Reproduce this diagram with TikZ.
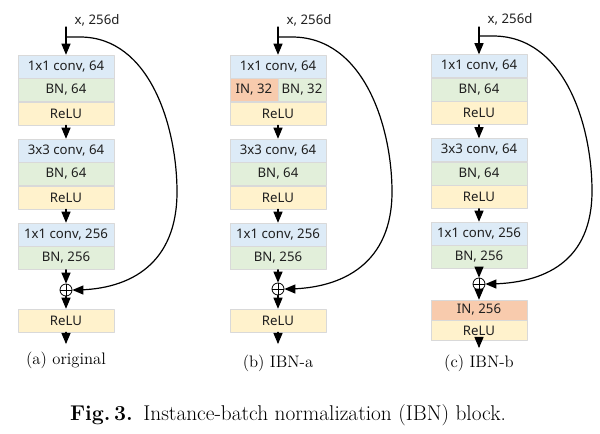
\documentclass[tikz,border=0pt]{standalone}
\usepackage{fontspec}
\newfontfamily\boxfont{Noto Sans}
\usetikzlibrary{arrows,positioning}
\definecolor{convblue}{RGB}{221,235,247}
\definecolor{bngreen}{RGB}{226,239,218}
\definecolor{reluyellow}{RGB}{255,242,204}
\definecolor{inorange}{RGB}{248,203,173}
\tikzset{
  blk/.style={draw=black!15, minimum width=72pt, minimum height=17.25pt, inner sep=0pt,
    font=\boxfont\fontsize{9.9}{11}\selectfont, text=black!88},
  conv/.style={blk, fill=convblue},
  bn/.style={blk, fill=bngreen},
  relu/.style={blk, fill=reluyellow},
  inorm/.style={blk, fill=inorange},
  half/.style={minimum width=36pt},
  thin row/.style={minimum height=15pt},
  oplus/.style={circle, draw, line width=0.6pt, minimum size=9pt, inner sep=0pt,
    path picture={\draw[line width=0.6pt] (path picture bounding box.north) -- (path picture bounding box.south)
      (path picture bounding box.west) -- (path picture bounding box.east);}},
  inlabel/.style={anchor=west, font=\boxfont\fontsize{9.9}{11}\selectfont, text=black!88},
  subcap/.style={font=\fontsize{12.5}{15}\selectfont},
  flow/.style={->, line width=0.9pt}
}
\begin{document}
\begin{tikzpicture}[line cap=round,line join=round,>=triangle 45,x=0.75pt,y=-0.75pt,node distance=0pt]
      \useasboundingbox (0,0) rectangle (600,433);
      % (a) original
      \coordinate (ina) at (66,27);
      \coordinate (spa) at (66,37);
      \node[inlabel] (xa) at (70,20) {x, 256d};
      \node[conv] (conv1a) at (66,66.5) {1x1 conv, 64};
      \node[bn, below=of conv1a] (bn1a) {BN, 64};
      \node[relu, below=of bn1a] (relu1a) {ReLU};
      \node[conv] (conv2a) at (66,150.5) {3x3 conv, 64};
      \node[bn, below=of conv2a] (bn2a) {BN, 64};
      \node[relu, below=of bn2a] (relu2a) {ReLU};
      \node[conv] (conv3a) at (66,234.5) {1x1 conv, 256};
      \node[bn, below=of conv3a] (bn3a) {BN, 256};
      \node[oplus] (adda) at (66,290) {};
      \node[relu] (relu4a) at (66,320.5) {ReLU};
      \coordinate (outa) at (66,344);
      \node[subcap] (capa) at (66,360) {(a) original};
      \draw[flow] (ina) -- (conv1a);
      \draw[flow] (relu1a) -- (conv2a);
      \draw[flow] (relu2a) -- (conv3a);
      \draw[flow] (bn3a) -- (adda);
      \draw[flow] (adda) -- (relu4a);
      \draw[flow] (relu4a) -- (outa);
      \draw[flow] (spa) -- ++(14,0) .. controls +(70,0) and +(0,-65) .. ++(97,155)
        .. controls +(0,70) and +(60,0) .. (adda.east);
      % (b) IBN-a
      \coordinate (inb) at (278,27);
      \coordinate (spb) at (278,37);
      \node[inlabel] (xb) at (282,20) {x, 256d};
      \node[conv] (conv1b) at (278,66.5) {1x1 conv, 64};
      \node[inorm, half, anchor=north west] (in1b) at (conv1b.south west) {IN, 32};
      \node[bn, half, anchor=north east] (bn1b) at (conv1b.south east) {BN, 32};
      \node[relu, anchor=north] (relu1b) at (in1b.south -| conv1b.south) {ReLU};
      \node[conv] (conv2b) at (278,150.5) {3x3 conv, 64};
      \node[bn, below=of conv2b] (bn2b) {BN, 64};
      \node[relu, below=of bn2b] (relu2b) {ReLU};
      \node[conv] (conv3b) at (278,234.5) {1x1 conv, 256};
      \node[bn, below=of conv3b] (bn3b) {BN, 256};
      \node[oplus] (addb) at (278,289) {};
      \node[relu] (relu4b) at (278,320.5) {ReLU};
      \coordinate (outb) at (278,344);
      \node[subcap] (capb) at (278,363) {(b) IBN-a};
      \draw[flow] (inb) -- (conv1b);
      \draw[flow] (relu1b) -- (conv2b);
      \draw[flow] (relu2b) -- (conv3b);
      \draw[flow] (bn3b) -- (addb);
      \draw[flow] (addb) -- (relu4b);
      \draw[flow] (relu4b) -- (outb);
      \draw[flow] (spb) -- ++(14,0) .. controls +(72,0) and +(0,-65) .. ++(100,155)
        .. controls +(0,70) and +(60,0) .. (addb.east);
      % (c) IBN-b
      \coordinate (inc) at (479,27);
      \coordinate (spc) at (479,36);
      \node[inlabel] (xc) at (483,19) {x, 256d};
      \node[conv] (conv1c) at (479,66) {1x1 conv, 64};
      \node[bn, below=of conv1c] (bn1c) {BN, 64};
      \node[relu, below=of bn1c] (relu1c) {ReLU};
      \node[conv] (conv2c) at (479,150) {3x3 conv, 64};
      \node[bn, below=of conv2c] (bn2c) {BN, 64};
      \node[relu, below=of bn2c] (relu2c) {ReLU};
      \node[conv] (conv3c) at (479,233.5) {1x1 conv, 256};
      \node[bn, below=of conv3c] (bn3c) {BN, 256};
      \node[oplus] (addc) at (479,284) {};
      \node[inorm, thin row] (in4c) at (479,310) {IN, 256};
      \node[relu, thin row, below=of in4c] (relu4c) {ReLU};
      \coordinate (outc) at (479,348);
      \node[subcap] (capc) at (479,363) {(c) IBN-b};
      \draw[flow] (inc) -- (conv1c);
      \draw[flow] (relu1c) -- (conv2c);
      \draw[flow] (relu2c) -- (conv3c);
      \draw[flow] (bn3c) -- (addc);
      \draw[flow] (addc) -- (in4c);
      \draw[flow] (relu4c) -- (outc);
      \draw[flow] (spc) -- ++(14,0) .. controls +(72,0) and +(0,-65) .. ++(99,155)
        .. controls +(0,70) and +(60,0) .. (addc.east);
      % caption
      \node[font=\fontsize{16}{19}\selectfont] (figcap) at (288,415) {\textbf{Fig.\,3.}\enspace Instance-batch normalization (IBN) block.};
\end{tikzpicture}
\end{document}
